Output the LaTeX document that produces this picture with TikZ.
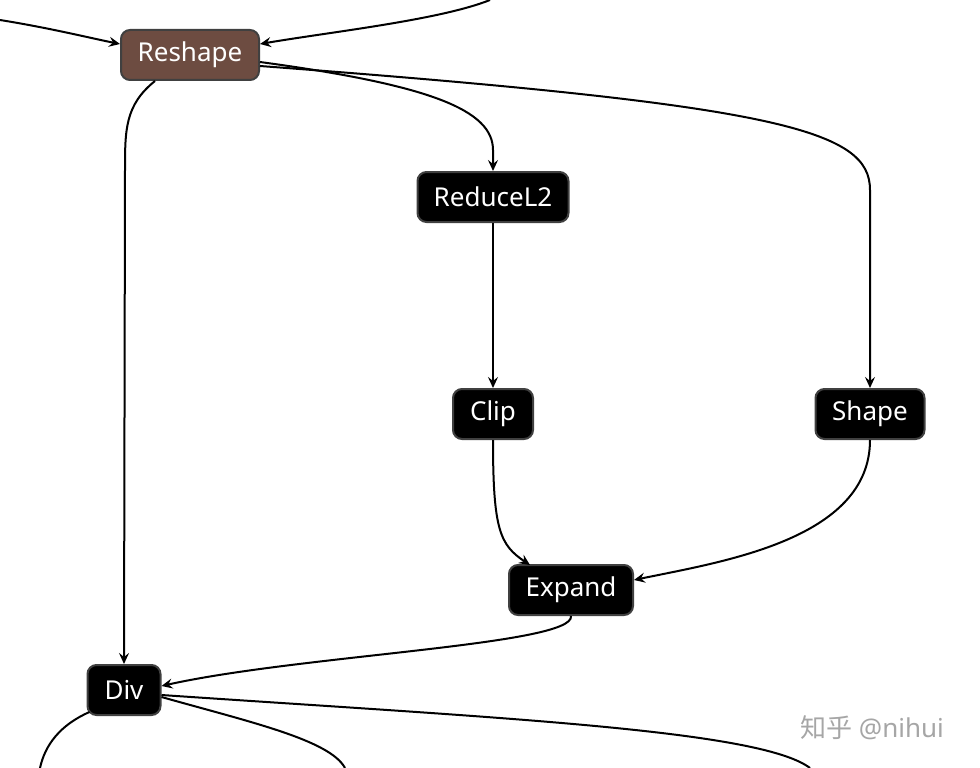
\documentclass[tikz,border=0pt]{standalone}
\usepackage{fontspec}
\setmainfont{Noto Sans}
\newfontfamily\cjk{Noto Sans CJK SC}
\usetikzlibrary{arrows.meta}
\definecolor{brownbox}{HTML}{6D4C41}
\begin{document}
\begin{tikzpicture}[x=1pt,y=-1pt,
  op/.style={draw=black!75,line width=2pt,rounded corners=9pt,fill=black,text=white,font=\fontsize{26}{30}\selectfont,minimum height=50pt,inner xsep=4pt,anchor=center},
  edge/.style={line width=2pt,-{Stealth[length=11pt,width=10pt,inset=4pt]}},
  plain/.style={line width=2pt}]
\useasboundingbox (0,0) rectangle (980,768);
\node[op,fill=brownbox,minimum width=138pt] (reshape) at (190,55) {Reshape};
\node[op,minimum width=151pt] (reduce) at (493,197) {ReduceL2};
\node[op,minimum width=80pt] (clip) at (493,414) {Clip};
\node[op,minimum width=109pt] (shape) at (870,414) {Shape};
\node[op,minimum width=124pt] (expand) at (571,590) {Expand};
\node[op,minimum width=73pt] (div) at (124,690) {Div};
\coordinate (inA) at (0,20);
\coordinate (inB) at (490,0);
\coordinate (o1) at (40,768);
\coordinate (o2) at (345,768);
\coordinate (o3) at (810,768);
\coordinate (rsb) at (155,81);
\coordinate (expnw) at (530,565);
\draw[edge] (inA) .. controls (50,28) and (90,38) .. (reshape.west |- 0,44);
\draw[edge] (inB) .. controls (440,20) and (330,32) .. (reshape.east |- 0,44);
\draw[edge] (rsb) .. controls (125,105) and (125,130) .. (125,170) -- (div.north);
\draw[edge] (reshape.east |- 0,62) .. controls (430,85) and (493,110) .. (493,150) -- (reduce.north);
\draw[edge] (reshape.east |- 0,66) .. controls (780,105) and (870,130) .. (870,190) -- (shape.north);
\draw[edge] (reduce) -- (clip);
\draw[edge] (clip.south) .. controls (493,530) and (500,545) .. (expnw);
\draw[edge] (shape.south) .. controls (870,540) and (720,562) .. (expand.east |- 0,580);
\draw[edge] (expand.south) .. controls (575,645) and (300,655) .. (div.east |- 0,686);
\draw[plain] (div.south west) ++(3,-4) .. controls (60,725) and (45,745) .. (o1);
\draw[plain] (div.east |- 0,697) .. controls (250,722) and (330,740) .. (o2);
\draw[plain] (div.east |- 0,695) .. controls (500,718) and (760,730) .. (o3);
\node[text=black!35,font=\fontsize{26}{30}\selectfont] (wm) at (872,728) {{\cjk 知乎} @nihui};
\end{tikzpicture}
\end{document}
